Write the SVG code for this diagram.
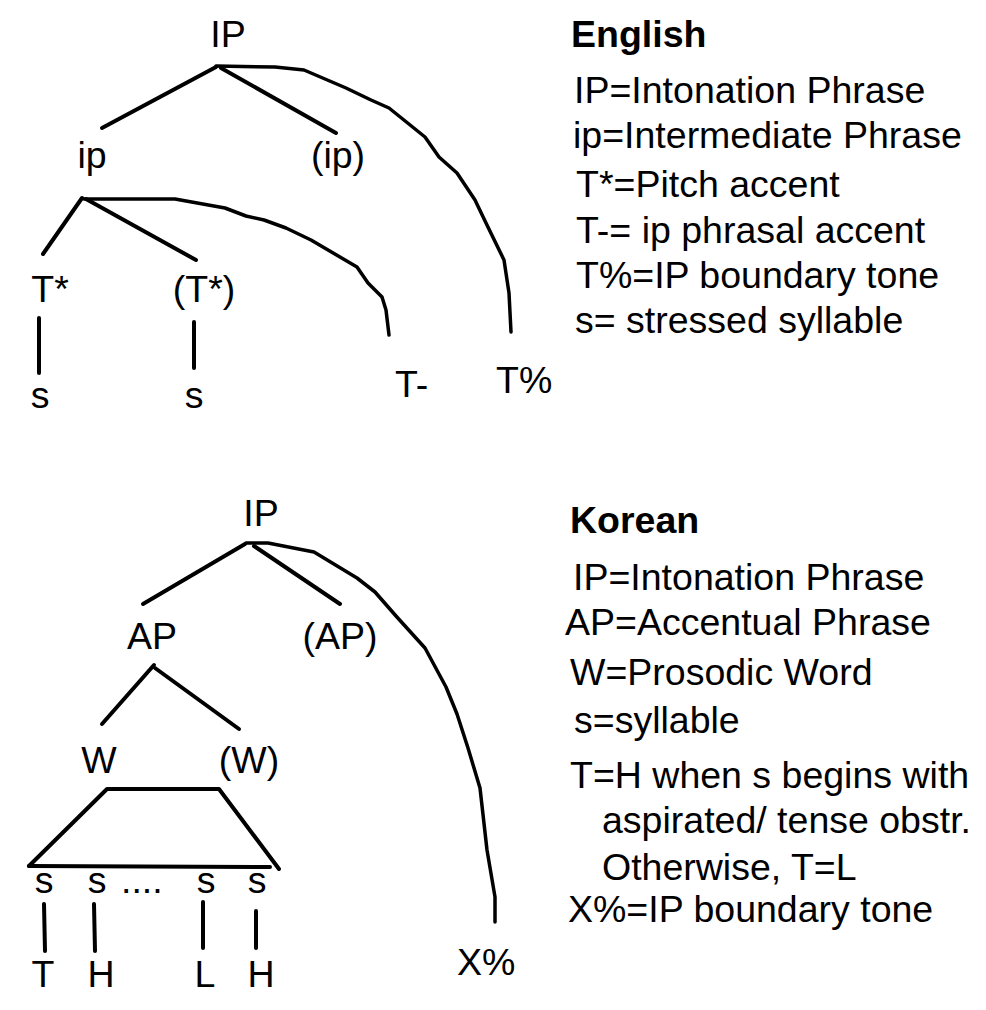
<svg xmlns="http://www.w3.org/2000/svg" width="986" height="1010" viewBox="0 0 986 1010">
<style>
text{font-family:"Liberation Sans",Arial,sans-serif;font-size:37.5px;fill:#000}
.m{text-anchor:middle}
.b{font-weight:bold}
.ln{stroke:#000;stroke-width:4;fill:none;stroke-linecap:round;stroke-linejoin:round}
.arc{stroke:#000;stroke-width:3.5;fill:none;stroke-linecap:round;stroke-linejoin:round}
</style>
<rect width="986" height="1010" fill="#fff"/>
<g id="connectors">
<line class="ln" x1="216" y1="67" x2="102" y2="128"/>
<line class="ln" x1="221" y1="68" x2="336" y2="133"/>
<polyline class="arc" points="216,66 275,67 304,70 346,88 371,100 389,108 425,137 439,157 457,173 475,200 486,223 504,260 509,293 511,332"/>
<line class="ln" x1="82" y1="198" x2="43" y2="254"/>
<line class="ln" x1="86" y1="199" x2="196" y2="260"/>
<polyline class="arc" points="84,199 175,199 225,208 246,216 264,220 286,228 311,240 357,267 368,283 382,297 386,310 389,335"/>
<line class="ln" x1="39" y1="318" x2="39" y2="373"/>
<line class="ln" x1="194" y1="322" x2="194" y2="368"/>
<line class="ln" x1="245" y1="544" x2="143" y2="604"/>
<line class="ln" x1="254" y1="546" x2="340" y2="604"/>
<polyline class="arc" points="246,543 268,543 314,552 357,578 375,592 396,616 425,648 446,687 457,714 468,748 480,788 487,850 495,897 495,922"/>
<line class="ln" x1="154" y1="665" x2="102" y2="724"/>
<line class="ln" x1="155" y1="668" x2="239" y2="729"/>
<polyline class="ln" points="29,866 107,789 219,789 279,869"/>
<line class="ln" x1="29" y1="866" x2="270" y2="867"/>
<line class="ln" x1="44" y1="904" x2="45" y2="951"/>
<line class="ln" x1="94" y1="904" x2="95" y2="951"/>
<line class="ln" x1="203" y1="902" x2="203" y2="948"/>
<line class="ln" x1="256" y1="911" x2="256" y2="948"/>
</g>
<g id="en-IP"><text class="m" x="228" y="47">IP</text></g>
<g id="en-ip"><text class="m" x="92" y="168">ip</text></g>
<g id="en-ip2"><text class="m" x="338" y="168">(ip)</text></g>
<g id="en-T1"><text class="m" x="50" y="302">T*</text></g>
<g id="en-T2"><text class="m" x="204" y="302">(T*)</text></g>
<g id="en-s1"><text class="m" x="40" y="408">s</text></g>
<g id="en-s2"><text class="m" x="194" y="408">s</text></g>
<g id="en-Tminus"><text x="395" y="397">T-</text></g>
<g id="en-Tpct"><text x="496" y="393">T%</text></g>
<g id="en-legend">
<text class="b" x="571" y="47">English</text>
<text x="574" y="103">IP=Intonation Phrase</text>
<text x="573" y="148">ip=Intermediate Phrase</text>
<text x="576" y="197">T*=Pitch accent</text>
<text x="576" y="243">T-= ip phrasal accent</text>
<text x="576" y="288">T%=IP boundary tone</text>
<text x="575" y="333">s= stressed syllable</text>
</g>
<g id="ko-IP"><text class="m" x="261" y="526">IP</text></g>
<g id="ko-AP"><text class="m" x="152" y="649">AP</text></g>
<g id="ko-AP2"><text class="m" x="340" y="649">(AP)</text></g>
<g id="ko-W"><text class="m" x="99" y="773">W</text></g>
<g id="ko-W2"><text class="m" x="249" y="773">(W)</text></g>
<g id="ko-s">
<text class="m" x="44" y="893">s</text>
<text class="m" x="97" y="893">s</text>
<text x="121" y="893">....</text>
<text class="m" x="206" y="893">s</text>
<text class="m" x="257" y="893">s</text>
</g>
<g id="ko-tones">
<text class="m" x="43" y="987">T</text>
<text class="m" x="101" y="987">H</text>
<text class="m" x="205" y="987">L</text>
<text class="m" x="261" y="987">H</text>
</g>
<g id="ko-Xpct"><text x="457" y="975">X%</text></g>
<g id="ko-legend">
<text class="b" x="570" y="533">Korean</text>
<text x="573" y="590">IP=Intonation Phrase</text>
<text x="565" y="635">AP=Accentual Phrase</text>
<text x="570" y="685">W=Prosodic Word</text>
<text x="574" y="733">s=syllable</text>
<text x="570" y="788">T=H when s begins with</text>
<text x="602" y="833">aspirated/ tense obstr.</text>
<text x="602" y="880">Otherwise, T=L</text>
<text x="568" y="922">X%=IP boundary tone</text>
</g>
</svg>
